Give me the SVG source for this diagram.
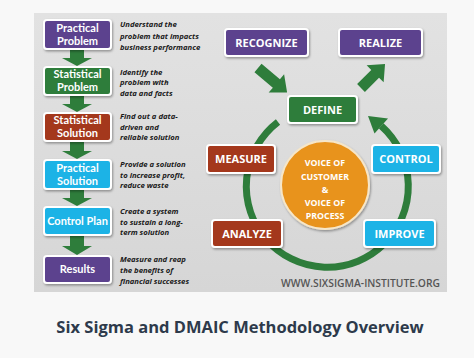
<svg xmlns="http://www.w3.org/2000/svg" width="474" height="358" viewBox="0 0 474 358">
<defs>
<filter id="sh" x="-20%" y="-20%" width="140%" height="150%">
<feDropShadow dx="1" dy="1.5" stdDeviation="1.2" flood-color="#000" flood-opacity="0.35"/>
</filter>
<linearGradient id="bg" x1="0" y1="0" x2="0" y2="1">
<stop offset="0" stop-color="#e2e2e2"/>
<stop offset="1" stop-color="#d6d6d6"/>
</linearGradient>
</defs>
<style>
.box{stroke:#fff;stroke-width:2;filter:url(#sh)}
.pu{fill:#5b428e}.gr{fill:#2e7d3b}.rd{fill:#a4381b}.cy{fill:#1db3e6}
.lt{font-family:Lato,"Liberation Sans",sans-serif;font-weight:700;font-size:11px;fill:#fff;text-anchor:middle}
.rt{font-family:"Open Sans","Liberation Sans",sans-serif;font-weight:700;font-size:11px;fill:#fff;text-anchor:middle}
.ds{font-family:"Open Sans","Liberation Sans",sans-serif;font-weight:700;font-style:italic;font-size:7.7px;fill:#1a1a1a}
.ct{font-family:"Open Sans","Liberation Sans",sans-serif;font-weight:700;font-size:8.8px;fill:#fff;text-anchor:middle}
.arw{fill:#2e7d3b}
</style>
<rect width="474" height="358" fill="#f8f8f8"/>
<rect x="34" y="13" width="413" height="279" fill="url(#bg)"/>

<g id="connectors">
<polygon class="arw" points="70,50 84,50 84,58 92,58 77,66 62,58 70,58"/>
<polygon class="arw" points="70,96 84,96 84,104 92,104 77,112 62,104 70,104"/>
<polygon class="arw" points="70,142 84,142 84,151 92,151 77,159 62,151 70,151"/>
<polygon class="arw" points="70,190 84,190 84,198 92,198 77,206 62,198 70,198"/>
<polygon class="arw" points="70,236 84,236 84,246 92,246 77,255 62,246 70,246"/>
<polygon class="arw" transform="translate(258,68) rotate(40)" points="0,-5.5 24,-5.5 24,-12 38,0 24,12 24,5.5 0,5.5"/>
<polygon class="arw" transform="translate(361,88) rotate(-45)" points="0,-5.5 20,-5.5 20,-12 34,0 20,12 20,5.5 0,5.5"/>
<path d="M 278 122 A 81 81 0 1 0 381.2 125.8" fill="none" stroke="#2e7d3b" stroke-width="7"/>
<polygon class="arw" points="388,118.5 374.5,133.5 368,116"/>
</g>

<g id="practical-problem"><rect class="box pu" x="44" y="20" width="67" height="29" rx="3"/><text class="lt" x="77.5" y="31.5">Practical</text><text class="lt" x="77.5" y="44.5">Problem</text></g>
<g id="statistical-problem"><rect class="box gr" x="44" y="67" width="67" height="28" rx="3"/><text class="lt" x="77.5" y="78">Statistical</text><text class="lt" x="77.5" y="91">Problem</text></g>
<g id="statistical-solution"><rect class="box rd" x="44" y="113" width="67" height="28" rx="3"/><text class="lt" x="77.5" y="124">Statistical</text><text class="lt" x="77.5" y="137">Solution</text></g>
<g id="practical-solution"><rect class="box cy" x="44" y="160" width="67" height="29" rx="3"/><text class="lt" x="77.5" y="171.5">Practical</text><text class="lt" x="77.5" y="184.5">Solution</text></g>
<g id="control-plan"><rect class="box cy" x="44" y="207" width="67" height="28" rx="3"/><text class="lt" x="77.5" y="225">Control Plan</text></g>
<g id="results"><rect class="box pu" x="44" y="256" width="67" height="27" rx="3"/><text class="lt" x="77.5" y="273">Results</text></g>

<g id="desc-1"><text class="ds" x="120" y="27">Understand the</text><text class="ds" x="120" y="38.5">problem that impacts</text><text class="ds" x="120" y="49.5">business performance</text></g>
<g id="desc-2"><text class="ds" x="120" y="74.5">Identify the</text><text class="ds" x="120" y="85">problem with</text><text class="ds" x="120" y="95.5">data and facts</text></g>
<g id="desc-3"><text class="ds" x="120" y="119">Find out a data-</text><text class="ds" x="120" y="129.5">driven and</text><text class="ds" x="120" y="140">reliable solution</text></g>
<g id="desc-4"><text class="ds" x="120" y="167">Provide a solution</text><text class="ds" x="120" y="177.5">to increase profit,</text><text class="ds" x="120" y="188">reduce waste</text></g>
<g id="desc-5"><text class="ds" x="120" y="214">Create a system</text><text class="ds" x="120" y="224.5">to sustain a long-</text><text class="ds" x="120" y="235">term solution</text></g>
<g id="desc-6"><text class="ds" x="120" y="262">Measure  and reap</text><text class="ds" x="120" y="273">the benefits  of</text><text class="ds" x="120" y="284">financial  successes</text></g>

<g id="recognize"><rect class="box pu" x="225" y="29" width="83" height="27" rx="3"/><text class="rt" x="266.5" y="46.5">RECOGNIZE</text></g>
<g id="realize"><rect class="box pu" x="339" y="29" width="83" height="27" rx="3"/><text class="rt" x="380.5" y="46.5">REALIZE</text></g>
<g id="define"><rect class="box gr" x="288" y="96" width="69" height="27" rx="3"/><text class="rt" x="322.5" y="113.5">DEFINE</text></g>
<g id="measure"><rect class="box rd" x="207" y="145" width="68" height="28" rx="3"/><text class="rt" x="241" y="163">MEASURE</text></g>
<g id="control"><rect class="box cy" x="372" y="145" width="68" height="28" rx="3"/><text class="rt" x="406" y="163">CONTROL</text></g>
<g id="analyze"><rect class="box rd" x="212" y="220" width="70" height="27" rx="3"/><text class="rt" x="247" y="237.5">ANALYZE</text></g>
<g id="improve"><rect class="box cy" x="364" y="220" width="71" height="27" rx="3"/><text class="rt" x="399.5" y="237.5">IMPROVE</text></g>

<g id="voice"><circle cx="325" cy="185" r="44" fill="#e8931f" stroke="#f6e6c8" stroke-width="2" filter="url(#sh)"/>
<text class="ct" x="325" y="166">VOICE OF</text><text class="ct" x="325" y="180">CUSTOMER</text><text class="ct" x="325" y="193">&amp;</text><text class="ct" x="325" y="206">VOICE OF</text><text class="ct" x="325" y="219">PROCESS</text></g>

<text x="440" y="287" text-anchor="end" font-family="'Open Sans','Liberation Sans',sans-serif" font-weight="600" font-size="10.3" fill="#555">WWW.SIXSIGMA-INSTITUTE.ORG</text>
<text x="240" y="333" text-anchor="middle" font-family="'Open Sans','Liberation Sans',sans-serif" font-weight="700" font-size="16.5" fill="#2d3a4b">Six Sigma and DMAIC Methodology Overview</text>
</svg>
